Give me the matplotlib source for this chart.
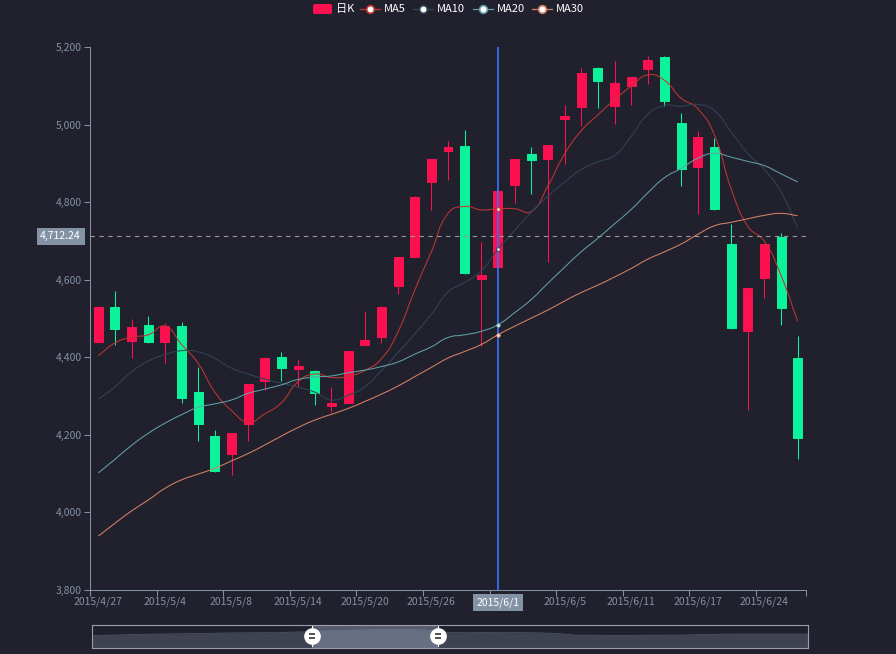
import numpy as np
import matplotlib
matplotlib.use('Agg')
import matplotlib.pyplot as plt
from matplotlib.path import Path
from matplotlib.patches import PathPatch, FancyBboxPatch
from matplotlib.lines import Line2D
from matplotlib.ticker import FuncFormatter
from matplotlib.transforms import IdentityTransform, blended_transform_factory

plt.rcParams['font.family'] = ['Noto Sans CJK SC', 'DejaVu Sans']

BG = '#21202D'
UP = '#FD1050'
DOWN = '#0CF49B'
AXIS = '#8392A5'
MA_COLORS = ['#c23531', '#2f4554', '#61a0a8', '#d48265']

dates = ['2015/4/27', '2015/4/28', '2015/4/29', '2015/4/30', '2015/5/4', '2015/5/5',
         '2015/5/6', '2015/5/7', '2015/5/8', '2015/5/11', '2015/5/12', '2015/5/13',
         '2015/5/14', '2015/5/15', '2015/5/18', '2015/5/19', '2015/5/20', '2015/5/21',
         '2015/5/22', '2015/5/25', '2015/5/26', '2015/5/27', '2015/5/28', '2015/5/29',
         '2015/6/1', '2015/6/2', '2015/6/3', '2015/6/4', '2015/6/5', '2015/6/8',
         '2015/6/9', '2015/6/10', '2015/6/11', '2015/6/12', '2015/6/15', '2015/6/16',
         '2015/6/17', '2015/6/18', '2015/6/19', '2015/6/23', '2015/6/24', '2015/6/25',
         '2015/6/26']
opens = [4439, 4529, 4443, 4483, 4439, 4481, 4310, 4198, 4151, 4228, 4340, 4400, 4370,
         4365, 4274, 4283, 4432, 4453, 4585, 4659, 4853, 4932, 4945, 4602, 4632, 4843,
         4925, 4912, 5014, 5045, 5147, 5048, 5100, 5142, 5175, 5005, 4890, 4943, 4691,
         4469, 4604, 4711, 4399]
closes = [4529, 4473, 4477, 4439, 4481, 4296, 4227, 4108, 4204, 4331, 4399, 4372, 4377,
          4307, 4283, 4416, 4445, 4530, 4658, 4814, 4911, 4943, 4618, 4612, 4829, 4911,
          4909, 4947, 5023, 5132, 5112, 5106, 5122, 5166, 5062, 4886, 4968, 4783, 4475,
          4578, 4691, 4528, 4191]
lows = [4437, 4431, 4397, 4437, 4386, 4281, 4185, 4105, 4097, 4185, 4316, 4340, 4326,
        4277, 4260, 4282, 4430, 4436, 4563, 4658, 4780, 4857, 4615, 4429, 4631, 4797,
        4822, 4646, 4898, 4996, 5042, 5002, 5050, 5104, 5049, 4842, 4769, 4780, 4474,
        4264, 4552, 4483, 4138]
highs = [4531, 4572, 4500, 4507, 4488, 4490, 4374, 4212, 4205, 4332, 4400, 4414, 4395,
         4368, 4323, 4417, 4519, 4531, 4659, 4815, 4912, 4958, 4986, 4697, 4831, 4912,
         4941, 4948, 5050, 5147, 5148, 5164, 5123, 5178, 5178, 5029, 4983, 4966, 4744,
         4579, 4692, 4721, 4455]

ma5 = [4404, 4437, 4452, 4458, 4480, 4433, 4384, 4310, 4263, 4233, 4254, 4283, 4337,
       4357, 4348, 4351, 4366, 4396, 4466, 4573, 4672, 4771, 4789, 4780, 4783, 4783,
       4776, 4842, 4924, 4984, 5025, 5064, 5099, 5128, 5114, 5068, 5041, 4973, 4835,
       4738, 4699, 4611, 4493]
ma10 = [4292, 4324, 4363, 4390, 4407, 4417, 4414, 4397, 4372, 4357, 4344, 4333, 4323,
        4310, 4290, 4302, 4324, 4366, 4412, 4460, 4511, 4568, 4593, 4623, 4678, 4727,
        4774, 4815, 4852, 4884, 4904, 4920, 4970, 5026, 5049, 5047, 5052, 5036, 4981,
        4926, 4884, 4826, 4733]
ma20 = [4102, 4137, 4173, 4204, 4230, 4252, 4271, 4280, 4290, 4307, 4318, 4329, 4343,
        4349, 4352, 4360, 4367, 4376, 4388, 4408, 4427, 4451, 4458, 4467, 4484, 4515,
        4549, 4591, 4632, 4672, 4707, 4744, 4781, 4824, 4863, 4887, 4913, 4926, 4916,
        4905, 4894, 4873, 4852]
ma30 = [3939, 3972, 4004, 4032, 4062, 4084, 4099, 4114, 4133, 4152, 4174, 4197, 4219,
        4238, 4253, 4268, 4286, 4305, 4326, 4350, 4374, 4398, 4415, 4433, 4458, 4480,
        4501, 4522, 4545, 4567, 4586, 4607, 4629, 4653, 4672, 4692, 4717, 4739, 4748,
        4757, 4766, 4771, 4765]

# dataZoom slider background (whole-series shadow, relative level) and window in %
zoom_shadow = [0.53, 0.55, 0.57, 0.59, 0.60, 0.61, 0.62, 0.64, 0.65, 0.655, 0.66, 0.68,
               0.70, 0.74, 0.76, 0.78, 0.80, 0.81, 0.80, 0.76, 0.66, 0.665, 0.67, 0.665,
               0.66, 0.65, 0.62, 0.55, 0.545, 0.54, 0.54, 0.545, 0.55, 0.555, 0.58, 0.59,
               0.60, 0.60, 0.60, 0.60, 0.60]
zoom_start, zoom_end = 30.7, 48.3

pointer_index = 24
pointer_value = 4712.24

W, H = 896, 654
fig = plt.figure(figsize=(W / 100, H / 100), dpi=100, facecolor=BG)

ax = fig.add_axes([90 / W, 1 - 590 / H, 716 / W, 543 / H])
ax.set_facecolor(BG)
n = len(dates)
xs = np.arange(n)
ax.set_xlim(-0.5, n - 0.5)
ax.set_ylim(3800, 5200)

# candles
o = np.array(opens)
c = np.array(closes)
colors = np.where(c >= o, UP, DOWN)
ax.vlines(xs, lows, highs, colors=colors, linewidth=0.75, zorder=2)
ax.bar(xs, np.abs(c - o), bottom=np.minimum(o, c), width=0.54, color=colors,
       edgecolor=colors, linewidth=0.7, zorder=3)


def smooth_line(ax, y, color, smooth=0.5, lw=0.75):
    # bezier smoothing like echarts "smooth: true"
    pts = ax.transData.transform(np.column_stack([np.arange(len(y)), y]))
    cin, cout = [], []
    for i in range(len(pts)):
        prev = pts[max(i - 1, 0)]
        nxt = pts[min(i + 1, len(pts) - 1)]
        v = (nxt - prev) * smooth
        d0 = np.hypot(*(pts[i] - prev))
        d1 = np.hypot(*(nxt - pts[i]))
        r = d1 / (d0 + d1) if d0 + d1 > 0 else 0.5
        cin.append(pts[i] - v * (1 - r))
        cout.append(pts[i] + v * r)
    verts = [pts[0]]
    codes = [Path.MOVETO]
    for i in range(len(pts) - 1):
        verts += [cout[i], cin[i + 1], pts[i + 1]]
        codes += [Path.CURVE4] * 3
    ax.add_patch(PathPatch(Path(verts, codes), transform=IdentityTransform(),
                           fill=False, edgecolor=color, lw=lw, zorder=4))


for vals, col in zip([ma5, ma10, ma20, ma30], MA_COLORS):
    smooth_line(ax, vals, col)
    ax.plot(pointer_index, vals[pointer_index], 'o', ms=2.6, mfc='#e8e8e8', mec=col,
            mew=0.6, zorder=6)

# axis pointer (cross)
ax.axvline(pointer_index, color='#376df4', lw=1.3, zorder=5)
ax.axhline(pointer_value, color='#999999', lw=0.8, ls=(0, (4, 4)), zorder=5)

# axes styling
for side in ['top', 'right']:
    ax.spines[side].set_visible(False)
for side in ['left', 'bottom']:
    ax.spines[side].set_color(AXIS)
    ax.spines[side].set_linewidth(0.75)

label_idx = xs[::4]
ax.set_xticks(label_idx)
ax.set_xticklabels([dates[i] for i in label_idx])
ax.tick_params(axis='x', which='major', length=0, pad=5, labelcolor=AXIS, labelsize=7.5)
ax.set_xticks(np.append(np.arange(-0.5, n, 4), n - 0.5), minor=True)
ax.tick_params(axis='x', which='minor', length=4, width=0.75, color=AXIS)

ax.set_yticks(np.arange(3800, 5201, 200))
ax.yaxis.set_major_formatter(FuncFormatter(lambda v, p: f'{v:,.0f}'))
ax.tick_params(axis='y', length=4, width=0.75, color=AXIS, labelcolor=AXIS,
               labelsize=7.5, pad=2)

# pointer labels
tx = blended_transform_factory(ax.transData, ax.transAxes)
ax.text(pointer_index, -0.023, dates[pointer_index], transform=tx, ha='center',
        va='center', color='white', fontsize=7.5, clip_on=False, zorder=10,
        bbox=dict(boxstyle='square,pad=0.35', fc=AXIS, ec='none'))
ty = blended_transform_factory(ax.transAxes, ax.transData)
ax.text(-0.0125, pointer_value, f'{pointer_value:,.2f}', transform=ty, ha='right',
        va='center', color='white', fontsize=7.5, clip_on=False, zorder=10,
        bbox=dict(boxstyle='square,pad=0.35', fc=AXIS, ec='none'))

# legend (drawn in pixel coordinates)
ly = H - 9
fig.add_artist(FancyBboxPatch((313, ly - 5), 19, 10, boxstyle='round,pad=0,rounding_size=2',
                              transform=IdentityTransform(), fc=UP, ec='none'))
fig.text(336 / W, ly / H, '日K', color='white', fontsize=8, va='center')
legend_items = [('MA5', 360, 384), ('MA10', 413, 437), ('MA20', 473, 497), ('MA30', 532, 556)]
for (name, x0, tx0), col in zip(legend_items, MA_COLORS):
    fig.add_artist(Line2D([x0, x0 + 20], [ly, ly], transform=IdentityTransform(),
                          color=col, lw=0.9))
    fig.add_artist(Line2D([x0 + 10], [ly], transform=IdentityTransform(), marker='o',
                          ms=5.5, mfc='white', mec=col, mew=1.2))
    fig.text(tx0 / W, ly / H, name, color='white', fontsize=8, va='center')

# dataZoom slider
sax = fig.add_axes([92 / W, 1 - 647.5 / H, 716 / W, 22.5 / H])
sax.set_facecolor('none')
sax.set_xlim(0, 100)
sax.set_ylim(0, 1)
sx = np.linspace(0, 100, len(zoom_shadow))
sax.fill_between(sx, 0, zoom_shadow, color=AXIS, alpha=0.3, lw=0)
sax.plot(sx, zoom_shadow, color=AXIS, alpha=0.5, lw=0.5)
sax.axvspan(zoom_start, zoom_end, color=(167 / 255, 183 / 255, 204 / 255), alpha=0.4, lw=0)
for s in sax.spines.values():
    s.set_color('#9a9fab')
    s.set_linewidth(0.8)
sax.set_xticks([])
sax.set_yticks([])
for pos in (zoom_start, zoom_end):
    sax.plot([pos, pos], [0.05, 0.95], color='white', lw=0.8, zorder=5, clip_on=False)
    sax.plot(pos, 0.51, 'o', ms=11, mfc='white', mec='white', zorder=6, clip_on=False)
    for dy in (-0.09, 0.09):
        sax.plot(pos, 0.51 + dy, marker='_', ms=4.5, mew=1.2, color='#333333', zorder=7,
                 clip_on=False)

fig.savefig('out.png', dpi=100, facecolor=BG)
